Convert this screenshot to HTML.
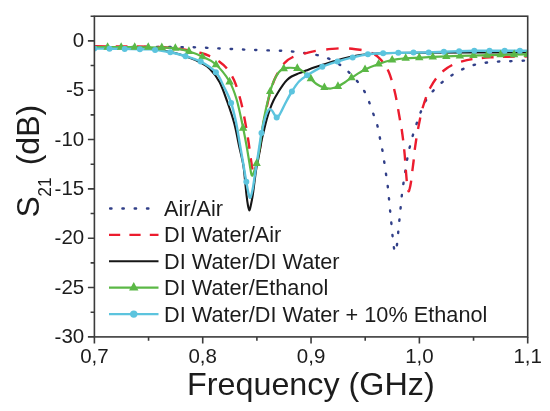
<!DOCTYPE html>
<html><head><meta charset="utf-8"><title>S21 vs Frequency</title>
<style>html,body{margin:0;padding:0;background:#fff;overflow:hidden}svg{display:block}</style>
</head><body>
<svg width="550" height="411" viewBox="0 0 550 411">
<rect width="550" height="411" fill="#ffffff"/>
<defs><clipPath id="pc"><rect x="94.40" y="16.20" width="433.30" height="320.70"/></clipPath></defs>
<g clip-path="url(#pc)">
<g fill="none" stroke-linejoin="round">
<path d="M94.40,46.80 C100.33,46.82 117.57,46.87 130.00,46.90 C142.43,46.93 158.37,46.93 169.00,47.00 C179.63,47.07 185.53,47.07 193.80,47.30 C202.07,47.53 210.90,48.05 218.60,48.40 C226.30,48.75 233.93,49.13 240.00,49.40 C246.07,49.67 248.22,49.77 255.00,50.00 C261.78,50.23 274.37,50.53 280.70,50.80 C287.03,51.07 288.95,51.23 293.00,51.60 C297.05,51.97 300.87,52.40 305.00,53.00 C309.13,53.60 313.60,54.15 317.80,55.20 C322.00,56.25 326.08,57.42 330.20,59.30 C334.32,61.18 338.80,63.73 342.50,66.50 C346.20,69.27 349.13,72.40 352.40,75.90 C355.67,79.40 359.50,83.62 362.10,87.50 C364.70,91.38 366.20,95.00 368.00,99.20 C369.80,103.40 371.37,108.42 372.90,112.70 C374.43,116.98 376.07,120.85 377.20,124.90 C378.33,128.95 378.85,132.87 379.70,137.00 C380.55,141.13 381.53,145.48 382.30,149.70 C383.07,153.92 383.67,158.15 384.30,162.30 C384.93,166.45 385.52,170.53 386.10,174.60 C386.68,178.67 387.32,182.67 387.80,186.70 C388.28,190.73 388.60,194.67 389.00,198.80 C389.40,202.93 389.80,207.37 390.20,211.50 C390.60,215.63 391.00,219.43 391.40,223.60 C391.80,227.77 392.15,232.33 392.60,236.50 C393.05,240.67 393.62,246.02 394.10,248.60 C394.58,251.18 395.02,252.68 395.50,252.00 C395.98,251.32 396.55,247.78 397.00,244.50 C397.45,241.22 397.80,236.38 398.20,232.30 C398.60,228.22 399.00,224.08 399.40,220.00 C399.80,215.92 400.20,211.85 400.60,207.80 C401.00,203.75 401.32,199.83 401.80,195.70 C402.28,191.57 402.88,187.25 403.50,183.00 C404.12,178.75 404.85,174.37 405.50,170.20 C406.15,166.03 406.67,161.97 407.40,158.00 C408.13,154.03 408.93,150.38 409.90,146.40 C410.87,142.42 411.90,138.42 413.20,134.10 C414.50,129.78 416.23,124.68 417.70,120.50 C419.17,116.32 420.28,112.92 422.00,109.00 C423.72,105.08 425.33,100.83 428.00,97.00 C430.67,93.17 434.50,89.33 438.00,86.00 C441.50,82.67 445.17,79.67 449.00,77.00 C452.83,74.33 457.00,71.97 461.00,70.00 C465.00,68.03 469.00,66.40 473.00,65.20 C477.00,64.00 481.00,63.38 485.00,62.80 C489.00,62.22 492.83,61.97 497.00,61.70 C501.17,61.43 504.88,61.40 510.00,61.20 C515.12,61.00 524.75,60.62 527.70,60.50" stroke="#313f88" stroke-width="2.40" stroke-dasharray="1.4 10.9" stroke-dashoffset="11.40" stroke-linecap="round"/>
<path d="M94.40,46.30 C100.33,46.33 119.57,46.40 130.00,46.50 C140.43,46.60 148.55,46.48 157.00,46.90 C165.45,47.32 173.37,47.98 180.70,49.00 C188.03,50.02 196.12,51.78 201.00,53.00 C205.88,54.22 206.92,54.83 210.00,56.30 C213.08,57.77 216.83,59.93 219.50,61.80 C222.17,63.67 223.58,64.47 226.00,67.50 C228.42,70.53 231.58,74.58 234.00,80.00 C236.42,85.42 238.70,93.33 240.50,100.00 C242.30,106.67 243.48,113.17 244.80,120.00 C246.12,126.83 247.37,134.33 248.40,141.00 C249.43,147.67 250.20,154.83 251.00,160.00 C251.80,165.17 252.53,170.42 253.20,172.00 C253.87,173.58 254.32,171.17 255.00,169.50" stroke="#ec1c2e" stroke-width="2.40" stroke-dasharray="11.55 9.45" stroke-dashoffset="20.70"/><path d="M255.00,169.50 C255.68,167.83 256.55,165.00 257.30,162.00 C258.05,159.00 258.80,155.58 259.50,151.50 C260.20,147.42 260.83,142.17 261.50,137.50 C262.17,132.83 262.75,128.00 263.50,123.50 C264.25,119.00 265.10,114.83 266.00,110.50 C266.90,106.17 268.07,101.00 268.90,97.50 C269.73,94.00 270.07,92.50 271.00,89.50 C271.93,86.50 273.17,82.58 274.50,79.50 C275.83,76.42 277.33,73.75 279.00,71.00 C280.67,68.25 282.33,65.25 284.50,63.00 C286.67,60.75 287.92,59.28 292.00,57.50 C296.08,55.72 304.00,53.55 309.00,52.30 C314.00,51.05 318.17,50.57 322.00,50.00 C325.83,49.43 328.67,49.18 332.00,48.90 C335.33,48.62 338.67,48.33 342.00,48.30 C345.33,48.27 349.00,48.45 352.00,48.70 C355.00,48.95 357.50,49.38 360.00,49.80 C362.50,50.22 364.67,50.50 367.00,51.20 C369.33,51.90 371.83,52.73 374.00,54.00" stroke="#ec1c2e" stroke-width="2.40" stroke-dasharray="12.65 10.35" stroke-dashoffset="4.97"/><path d="M374.00,54.00 C376.17,55.27 378.17,56.97 380.00,58.80 C381.83,60.63 383.50,62.72 385.00,65.00 C386.50,67.28 387.75,69.50 389.00,72.50 C390.25,75.50 391.42,79.25 392.50,83.00 C393.58,86.75 394.58,90.75 395.50,95.00 C396.42,99.25 397.25,104.33 398.00,108.50 C398.75,112.67 399.43,116.83 400.00,120.00 C400.57,123.17 400.87,124.08 401.40,127.50 C401.93,130.92 402.63,135.75 403.20,140.50 C403.77,145.25 404.33,150.75 404.80,156.00 C405.27,161.25 405.62,167.33 406.00,172.00 C406.38,176.67 406.70,180.83 407.10,184.00 C407.50,187.17 407.98,190.17 408.40,191.00 C408.82,191.83 409.17,190.50 409.60,189.00" stroke="#ec1c2e" stroke-width="2.40" stroke-dasharray="11.22 9.18" stroke-dashoffset="19.69"/><path d="M409.60,189.00 C410.03,187.50 410.57,184.83 411.00,182.00 C411.43,179.17 411.77,175.50 412.20,172.00 C412.63,168.50 413.20,164.50 413.60,161.00 C414.00,157.50 414.20,154.33 414.60,151.00 C415.00,147.67 415.52,144.17 416.00,141.00 C416.48,137.83 416.92,135.25 417.50,132.00 C418.08,128.75 418.83,124.83 419.50,121.50 C420.17,118.17 420.75,115.00 421.50,112.00 C422.25,109.00 423.08,106.37 424.00,103.50 C424.92,100.63 425.93,97.47 427.00,94.80 C428.07,92.13 428.82,90.30 430.40,87.50 C431.98,84.70 434.27,80.83 436.50,78.00 C438.73,75.17 441.17,72.67 443.80,70.50 C446.43,68.33 449.25,66.53 452.30,65.00 C455.35,63.47 458.32,62.33 462.10,61.30 C465.88,60.27 470.35,59.45 475.00,58.80 C479.65,58.15 484.83,57.73 490.00,57.40 C495.17,57.07 499.72,56.97 506.00,56.80 C512.28,56.63 524.08,56.47 527.70,56.40" stroke="#ec1c2e" stroke-width="2.40" stroke-dasharray="11.66 9.54" stroke-dashoffset="2.98"/>
<path d="M94.40,47.90 C100.33,47.95 119.90,47.98 130.00,48.20 C140.10,48.42 148.00,48.52 155.00,49.20 C162.00,49.88 166.67,51.03 172.00,52.30 C177.33,53.57 182.33,55.13 187.00,56.80 C191.67,58.47 196.22,60.30 200.00,62.30 C203.78,64.30 206.45,65.52 209.70,68.80 C212.95,72.08 216.58,76.55 219.50,82.00 C222.42,87.45 224.73,94.58 227.20,101.50 C229.67,108.42 232.32,116.08 234.30,123.50 C236.28,130.92 237.60,139.08 239.10,146.00 C240.60,152.92 242.32,159.33 243.30,165.00 C244.28,170.67 244.47,175.00 245.00,180.00 C245.53,185.00 246.02,190.83 246.50,195.00 C246.98,199.17 247.42,202.42 247.90,205.00 C248.38,207.58 248.88,210.58 249.40,210.50 C249.92,210.42 250.43,207.12 251.00,204.50 C251.57,201.88 252.20,198.72 252.80,194.80 C253.40,190.88 253.98,185.57 254.60,181.00 C255.22,176.43 255.88,171.08 256.50,167.40 C257.12,163.72 257.42,163.55 258.30,158.90 C259.18,154.25 260.92,143.98 261.80,139.50 C262.68,135.02 262.77,135.42 263.60,132.00 C264.43,128.58 265.70,122.92 266.80,119.00 C267.90,115.08 269.08,111.58 270.20,108.50 C271.32,105.42 272.20,103.17 273.50,100.50 C274.80,97.83 276.42,95.12 278.00,92.50 C279.58,89.88 281.50,86.88 283.00,84.80 C284.50,82.72 285.58,81.38 287.00,80.00 C288.42,78.62 289.57,77.60 291.50,76.50 C293.43,75.40 296.18,74.38 298.60,73.40 C301.02,72.42 303.43,71.58 306.00,70.60 C308.57,69.62 311.07,68.52 314.00,67.50 C316.93,66.48 318.85,65.97 323.60,64.50 C328.35,63.03 336.43,60.28 342.50,58.70 C348.57,57.12 353.75,55.92 360.00,55.00 C366.25,54.08 370.00,53.58 380.00,53.20 C390.00,52.82 395.38,52.82 420.00,52.70 C444.62,52.58 509.75,52.53 527.70,52.50" stroke="#161616" stroke-width="2.10"/>
<path d="M94.40,47.20 C98.83,47.20 112.07,47.18 121.00,47.20 C129.93,47.22 141.17,47.23 148.00,47.30 C154.83,47.37 157.42,47.43 162.00,47.60 C166.58,47.77 170.93,47.65 175.50,48.30 C180.07,48.95 184.98,50.13 189.40,51.50 C193.82,52.87 197.63,54.38 202.00,56.50 C206.37,58.62 211.07,60.12 215.60,64.20 C220.13,68.28 225.72,75.20 229.20,81.00 C232.68,86.80 234.32,91.83 236.50,99.00 C238.68,106.17 240.62,116.17 242.30,124.00 C243.98,131.83 245.38,139.33 246.60,146.00 C247.82,152.67 248.73,159.08 249.60,164.00 C250.47,168.92 251.02,174.33 251.80,175.50 C252.58,176.67 253.47,173.08 254.30,171.00 C255.13,168.92 256.02,166.17 256.80,163.00 C257.58,159.83 258.30,156.17 259.00,152.00 C259.70,147.83 260.33,142.67 261.00,138.00 C261.67,133.33 262.25,128.50 263.00,124.00 C263.75,119.50 264.60,115.25 265.50,111.00 C266.40,106.75 267.55,102.00 268.40,98.50 C269.25,95.00 269.67,93.00 270.60,90.00 C271.53,87.00 272.67,83.42 274.00,80.50 C275.33,77.58 277.10,74.45 278.60,72.50 C280.10,70.55 281.43,69.58 283.00,68.80 C284.57,68.02 285.58,67.87 288.00,67.80 C290.42,67.73 295.00,67.78 297.50,68.40 C300.00,69.02 300.92,69.90 303.00,71.50 C305.08,73.10 307.75,75.92 310.00,78.00 C312.25,80.08 314.17,82.42 316.50,84.00 C318.83,85.58 321.58,86.75 324.00,87.50 C326.42,88.25 328.63,88.70 331.00,88.50 C333.37,88.30 335.87,87.35 338.20,86.30 C340.53,85.25 342.63,83.72 345.00,82.20 C347.37,80.68 349.07,79.30 352.40,77.20 C355.73,75.10 360.63,71.80 365.00,69.60 C369.37,67.40 374.05,65.60 378.60,64.00 C383.15,62.40 387.75,60.95 392.30,60.00 C396.85,59.05 401.37,58.70 405.90,58.30 C410.43,57.90 413.82,57.88 419.50,57.60 C425.18,57.32 431.58,56.93 440.00,56.60 C448.42,56.27 460.00,55.90 470.00,55.60 C480.00,55.30 490.38,55.00 500.00,54.80 C509.62,54.60 523.08,54.47 527.70,54.40" stroke="#5bb846" stroke-width="2.20"/>
<path d="M94.40,48.60 C96.92,48.62 104.57,48.65 109.50,48.70 C114.43,48.75 117.25,48.78 124.00,48.90 C130.75,49.02 142.50,48.88 150.00,49.40 C157.50,49.92 163.17,50.90 169.00,52.00 C174.83,53.10 179.72,54.40 185.00,56.00 C190.28,57.60 195.55,58.88 200.70,61.60 C205.85,64.32 212.02,68.07 215.90,72.30 C219.78,76.53 221.48,81.97 224.00,87.00 C226.52,92.03 229.00,96.67 231.00,102.50 C233.00,108.33 234.50,114.92 236.00,122.00 C237.50,129.08 238.75,137.83 240.00,145.00 C241.25,152.17 242.53,159.33 243.50,165.00 C244.47,170.67 245.02,174.50 245.80,179.00 C246.58,183.50 247.47,188.87 248.20,192.00 C248.93,195.13 249.45,198.30 250.20,197.80 C250.95,197.30 251.90,192.97 252.70,189.00 C253.50,185.03 254.17,179.33 255.00,174.00 C255.83,168.67 256.87,162.33 257.70,157.00 C258.53,151.67 259.37,146.00 260.00,142.00 C260.63,138.00 260.60,137.17 261.50,133.00 C262.40,128.83 264.18,120.92 265.40,117.00 C266.62,113.08 267.70,110.58 268.80,109.50 C269.90,108.42 270.68,109.17 272.00,110.50 C273.32,111.83 275.28,117.08 276.70,117.50 C278.12,117.92 279.03,115.42 280.50,113.00 C281.97,110.58 283.60,106.58 285.50,103.00 C287.40,99.42 289.65,95.08 291.90,91.50 C294.15,87.92 296.47,84.20 299.00,81.50 C301.53,78.80 303.22,77.75 307.10,75.30 C310.98,72.85 317.23,69.10 322.30,66.80 C327.37,64.50 332.43,63.07 337.50,61.50 C342.57,59.93 347.63,58.60 352.70,57.40 C357.77,56.20 362.83,55.00 367.90,54.30 C372.97,53.60 378.03,53.45 383.10,53.20 C388.17,52.95 393.23,52.90 398.30,52.80 C403.37,52.70 408.43,52.67 413.50,52.60 C418.57,52.53 423.63,52.53 428.70,52.40 C433.77,52.27 438.85,52.00 443.90,51.80 C448.95,51.60 453.98,51.37 459.00,51.20 C464.02,51.03 469.00,50.88 474.00,50.80 C479.00,50.72 484.00,50.72 489.00,50.70 C494.00,50.68 497.55,50.68 504.00,50.70 C510.45,50.72 523.75,50.78 527.70,50.80" stroke="#5cc4de" stroke-width="2.40"/>
</g>
<path d="M107.60,42.13 L103.40,49.73 L111.80,49.73 Z M121.15,42.13 L116.95,49.73 L125.35,49.73 Z M134.70,42.18 L130.50,49.78 L138.90,49.78 Z M148.25,42.24 L144.05,49.84 L152.45,49.84 Z M161.80,42.53 L157.60,50.13 L166.00,50.13 Z M175.35,43.23 L171.15,50.83 L179.55,50.83 Z M188.90,46.32 L184.70,53.92 L193.10,53.92 Z M202.45,51.69 L198.25,59.29 L206.65,59.29 Z M216.00,59.63 L211.80,67.23 L220.20,67.23 Z M229.55,76.80 L225.35,84.40 L233.75,84.40 Z M243.10,123.03 L238.90,130.63 L247.30,130.63 Z M256.65,158.41 L252.45,166.01 L260.85,166.01 Z M270.20,86.48 L266.00,94.08 L274.40,94.08 Z M283.75,63.58 L279.55,71.18 L287.95,71.18 Z M297.30,63.32 L293.10,70.92 L301.50,70.92 Z M310.85,73.72 L306.65,81.32 L315.05,81.32 Z M324.40,82.49 L320.20,90.09 L328.60,90.09 Z M337.95,81.31 L333.75,88.91 L342.15,88.91 Z M351.50,72.74 L347.30,80.34 L355.70,80.34 Z M365.05,64.51 L360.85,72.11 L369.25,72.11 Z M378.60,58.93 L374.40,66.53 L382.80,66.53 Z M392.15,54.98 L387.95,62.58 L396.35,62.58 Z M405.70,53.26 L401.50,60.86 L409.90,60.86 Z M419.25,52.55 L415.05,60.15 L423.45,60.15 Z M432.80,51.88 L428.60,59.48 L437.00,59.48 Z M446.35,51.32 L442.15,58.92 L450.55,58.92 Z M459.90,50.87 L455.70,58.47 L464.10,58.47 Z M473.45,50.44 L469.25,58.04 L477.65,58.04 Z M487.00,50.08 L482.80,57.68 L491.20,57.68 Z M500.55,49.73 L496.35,57.33 L504.75,57.33 Z M514.10,49.53 L509.90,57.13 L518.30,57.13 Z M527.65,49.33 L523.45,56.93 L531.85,56.93 Z" fill="#5bb846"/>
<g fill="#5cc4de"><circle cx="94.30" cy="48.60" r="3.00"/><circle cx="109.50" cy="48.70" r="3.00"/><circle cx="124.70" cy="48.91" r="3.00"/><circle cx="139.90" cy="49.21" r="3.00"/><circle cx="155.10" cy="50.10" r="3.00"/><circle cx="170.30" cy="52.33" r="3.00"/><circle cx="185.50" cy="56.18" r="3.00"/><circle cx="200.70" cy="61.60" r="3.00"/><circle cx="215.90" cy="72.30" r="3.00"/><circle cx="231.10" cy="102.89" r="3.00"/><circle cx="246.30" cy="181.71" r="3.00"/><circle cx="261.50" cy="133.00" r="3.00"/><circle cx="276.70" cy="117.50" r="3.00"/><circle cx="291.90" cy="91.50" r="3.00"/><circle cx="307.10" cy="75.30" r="3.00"/><circle cx="322.30" cy="66.80" r="3.00"/><circle cx="337.50" cy="61.50" r="3.00"/><circle cx="352.70" cy="57.40" r="3.00"/><circle cx="367.90" cy="54.30" r="3.00"/><circle cx="383.10" cy="53.20" r="3.00"/><circle cx="398.30" cy="52.80" r="3.00"/><circle cx="413.50" cy="52.60" r="3.00"/><circle cx="428.70" cy="52.40" r="3.00"/><circle cx="443.90" cy="51.80" r="3.00"/><circle cx="459.10" cy="51.20" r="3.00"/><circle cx="474.30" cy="50.80" r="3.00"/><circle cx="489.50" cy="50.70" r="3.00"/><circle cx="504.70" cy="50.70" r="3.00"/><circle cx="519.90" cy="50.77" r="3.00"/></g>
</g>
<g stroke="#3b3b3b" stroke-width="1.60" fill="none" stroke-linecap="butt">
<rect x="94.40" y="16.20" width="433.30" height="320.70"/>
<path d="M94.40,40.90 H87.90 M94.40,90.23 H87.90 M94.40,139.57 H87.90 M94.40,188.90 H87.90 M94.40,238.23 H87.90 M94.40,287.57 H87.90 M94.40,336.90 H87.90 M94.40,16.23 H90.60 M94.40,65.57 H90.60 M94.40,114.90 H90.60 M94.40,164.23 H90.60 M94.40,213.57 H90.60 M94.40,262.90 H90.60 M94.40,312.23 H90.60 M94.40,336.90 V343.40 M202.72,336.90 V343.40 M311.05,336.90 V343.40 M419.38,336.90 V343.40 M527.70,336.90 V343.40 M148.56,336.90 V340.70 M256.89,336.90 V340.70 M365.21,336.90 V340.70 M473.54,336.90 V340.70"/>
</g>
<g font-family="'Liberation Sans', Arial, Helvetica, sans-serif" fill="#1c1c1c">
<text transform="translate(84.20,47.10) scale(1.025,1)" font-size="20.0" text-anchor="end">0</text>
<text transform="translate(84.20,96.43) scale(1.025,1)" font-size="20.0" text-anchor="end"><tspan dy="1.00">-</tspan><tspan dy="-1.00">5</tspan></text>
<text transform="translate(84.20,145.77) scale(1.025,1)" font-size="20.0" text-anchor="end"><tspan dy="1.00">-</tspan><tspan dy="-1.00">10</tspan></text>
<text transform="translate(84.20,195.10) scale(1.025,1)" font-size="20.0" text-anchor="end"><tspan dy="1.00">-</tspan><tspan dy="-1.00">15</tspan></text>
<text transform="translate(84.20,244.43) scale(1.025,1)" font-size="20.0" text-anchor="end"><tspan dy="1.00">-</tspan><tspan dy="-1.00">20</tspan></text>
<text transform="translate(84.20,293.77) scale(1.025,1)" font-size="20.0" text-anchor="end"><tspan dy="1.00">-</tspan><tspan dy="-1.00">25</tspan></text>
<text transform="translate(84.20,343.10) scale(1.025,1)" font-size="20.0" text-anchor="end"><tspan dy="1.00">-</tspan><tspan dy="-1.00">30</tspan></text>
<text transform="translate(94.40,363.00) scale(1.025,1)" font-size="20.0" text-anchor="middle">0,7</text>
<text transform="translate(202.72,363.00) scale(1.025,1)" font-size="20.0" text-anchor="middle">0,8</text>
<text transform="translate(311.05,363.00) scale(1.025,1)" font-size="20.0" text-anchor="middle">0,9</text>
<text transform="translate(419.38,363.00) scale(1.025,1)" font-size="20.0" text-anchor="middle">1,0</text>
<text transform="translate(527.70,363.00) scale(1.025,1)" font-size="20.0" text-anchor="middle">1,1</text>
<text transform="translate(187.00,394.50) scale(1.016,1)" font-size="31.8">Frequency (GHz)</text>
<g transform="translate(39.30,217.60) rotate(-90) scale(1,1.000)">
<text x="0" y="0" font-size="32.0">S</text>
<text x="20.90" y="11.70" font-size="17.5">21</text>
<text x="52.30" y="0" font-size="32.0">(dB)</text>
</g>
</g>
<g font-family="'Liberation Sans', Arial, Helvetica, sans-serif" fill="#1c1c1c">
<path d="M110.10,208.50 H150.00" stroke="#313f88" stroke-width="2.40" stroke-dasharray="1.4 10.9" stroke-linecap="round" fill="none"/>
<text transform="translate(164.00,216.00) scale(1.005,1)" font-size="21.6">Air/Air</text>
<path d="M109.00,234.90 H158.50" stroke="#ec1c2e" stroke-width="2.40" stroke-dasharray="11.2 9.2" fill="none"/>
<text transform="translate(164.00,242.40) scale(1.005,1)" font-size="21.6">DI Water/Air</text>
<path d="M109.00,261.30 H158.50" stroke="#161616" stroke-width="2.10" fill="none"/>
<text transform="translate(164.00,268.80) scale(1.005,1)" font-size="21.6">DI Water/DI Water</text>
<path d="M109.00,287.70 H158.50" stroke="#5bb846" stroke-width="2.20" fill="none"/>
<path d="M133.75,282.10 L129.05,290.50 L138.45,290.50 Z" fill="#5bb846"/>
<text transform="translate(164.00,295.20) scale(1.005,1)" font-size="21.6">DI Water/Ethanol</text>
<path d="M109.00,314.10 H158.50" stroke="#5cc4de" stroke-width="2.40" fill="none"/>
<circle cx="133.75" cy="314.10" r="3.70" fill="#5cc4de"/>
<text transform="translate(164.00,321.60) scale(1.005,1)" font-size="21.6">DI Water/DI Water + 10% Ethanol</text>
</g>
</svg>
</body></html>
